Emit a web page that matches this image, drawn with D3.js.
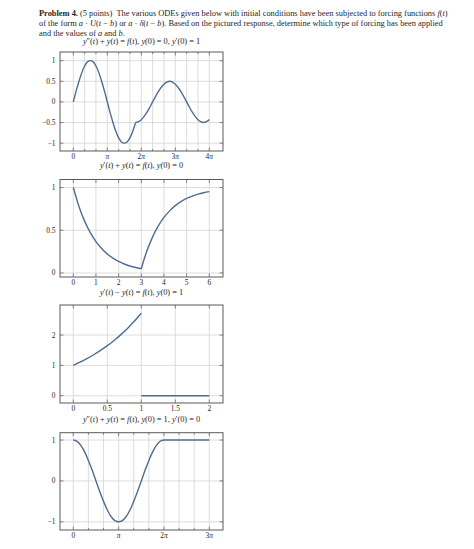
<!DOCTYPE html>
<html>
<head>
<meta charset="utf-8">
<script src="https://cdn.jsdelivr.net/npm/d3@7"></script>
<style>
  html, body { margin: 0; padding: 0; background: #fff; }
  svg { display: block; }
  text { font-family: "Liberation Serif", "DejaVu Serif", serif; fill: #262626; }
</style>
</head>
<body>
<svg id="sheet" width="474" height="549"></svg>
<script>
// ---- responses, x in units of π for the oscillator panels ----
const wave1Before = [[0,0],[0.083,0.26],[0.167,0.5],[0.25,0.71],[0.333,0.87],[0.417,0.97],[0.5,1],
  [0.583,0.97],[0.667,0.87],[0.75,0.71],[0.833,0.5],[0.917,0.26],[1,0],[1.083,-0.26],[1.167,-0.5],
  [1.25,-0.71],[1.333,-0.87],[1.417,-0.97],[1.5,-1],[1.583,-0.97],[1.667,-0.87],[1.75,-0.71],[1.833,-0.5]];
const wave1After = [[1.833,-0.5],[1.917,-0.48],[2,-0.43],[2.083,-0.35],[2.167,-0.25],[2.25,-0.13],
  [2.333,0],[2.417,0.13],[2.5,0.25],[2.583,0.35],[2.667,0.43],[2.75,0.48],[2.833,0.5],[2.917,0.48],
  [3,0.43],[3.083,0.35],[3.167,0.25],[3.25,0.13],[3.333,0],[3.417,-0.13],[3.5,-0.25],[3.583,-0.35],
  [3.667,-0.43],[3.75,-0.48],[3.833,-0.5],[3.917,-0.48],[4,-0.43]];

const decayBefore = [[0,1],[0.25,0.779],[0.5,0.607],[0.75,0.472],[1,0.368],[1.25,0.287],[1.5,0.223],
  [1.75,0.174],[2,0.135],[2.25,0.105],[2.5,0.082],[2.75,0.064],[3,0.05]];
const decayAfter = [[3,0.05],[3.1,0.14],[3.25,0.26],[3.5,0.423],[3.75,0.551],[4,0.65],[4.25,0.727],
  [4.5,0.788],[4.75,0.835],[5,0.872],[5.25,0.9],[5.5,0.922],[5.75,0.939],[6,0.952]];

const growthBefore = [[0,1],[0.1,1.105],[0.2,1.221],[0.3,1.35],[0.4,1.492],[0.5,1.649],[0.6,1.822],
  [0.7,2.014],[0.8,2.226],[0.9,2.46],[1,2.718]];
const growthAfter = [[1,0],[2,0]];

const wave4Before = [[0,1],[0.083,0.97],[0.167,0.87],[0.25,0.71],[0.333,0.5],[0.417,0.26],[0.5,0],
  [0.583,-0.26],[0.667,-0.5],[0.75,-0.71],[0.833,-0.87],[0.917,-0.97],[1,-1],[1.083,-0.97],
  [1.167,-0.87],[1.25,-0.71],[1.333,-0.5],[1.417,-0.26],[1.5,0],[1.583,0.26],[1.667,0.5],
  [1.75,0.71],[1.833,0.87],[1.917,0.97],[2,1]];
const wave4After = [[2,1],[3,1]];

// ---- tick values and labels ----
const xTicks1 = [0, 1, 2, 3, 4];
const xLabels1 = ["0", "π", "2π", "3π", "4π"];
const yTicks1 = [-1, -0.5, 0, 0.5, 1];
const yLabels1 = ["−1", "−0.5", "0", "0.5", "1"];

const xTicks2 = [0, 1, 2, 3, 4, 5, 6];
const xLabels2 = ["0", "1", "2", "3", "4", "5", "6"];
const yTicks2 = [0, 0.5, 1];
const yLabels2 = ["0", "0.5", "1"];

const xTicks3 = [0, 0.5, 1, 1.5, 2];
const xLabels3 = ["0", "0.5", "1", "1.5", "2"];
const yTicks3 = [0, 1, 2];
const yLabels3 = ["0", "1", "2"];

const xTicks4 = [0, 1, 2, 3];
const xLabels4 = ["0", "π", "2π", "3π"];
const yTicks4 = [-1, 0, 1];
const yLabels4 = ["−1", "0", "1"];

const titles = [
  "y″(t) + y(t) = f(t), y(0) = 0, y′(0) = 1",
  "y′(t) + y(t) = f(t), y(0) = 0",
  "y′(t) − y(t) = f(t), y(0) = 1",
  "y″(t) + y(t) = f(t), y(0) = 1, y′(0) = 0"
];

// ---- layout ----
const svg = d3.select("#sheet");
const frameL = 60, frameR = 223, plotX0 = 73.3, plotX1 = 209.3;
const lineColor = "#4f6e8f", frameColor = "#5a5a5a", gridColor = "#d4d4d4";

// writes a string, setting the single-letter math symbols in italics
function mathText(textSel, str) {
  const parts = str.match(/[A-Za-zπδ]+|[^A-Za-zπδ]+/g) || [];
  parts.forEach(s => {
    const t = textSel.append("tspan").text(s);
    if (/^[A-Za-zπδ]+$/.test(s)) t.attr("font-style", "italic");
  });
}

// problem statement (first two lines justified by widening word gaps)
const header = [
  { y: 15.5, fit: 398, runs: [["Problem 4.", "b"], [" (5 points)  The various ODEs given below with initial conditions have been subjected to forcing functions ", ""], ["f", "i"], ["(", ""], ["t", "i"], [")", ""]] },
  { y: 25.8, fit: 398, runs: [["of the form ", ""], ["a", "i"], [" · ", ""], ["U", "i"], ["(", ""], ["t", "i"], [" − ", ""], ["b", "i"], [") or ", ""], ["a", "i"], [" · ", ""], ["δ", "i"], ["(", ""], ["t", "i"], [" − ", ""], ["b", "i"], ["). Based on the pictured response, determine which type of forcing has been applied", ""]] },
  { y: 35.5, fit: null, runs: [["and the values of ", ""], ["a", "i"], [" and ", ""], ["b", "i"], [".", ""]] }
];
header.forEach(line => {
  const t = svg.append("text").attr("x", 39).attr("y", line.y).attr("font-size", 8.4)
    .attr("xml:space", "preserve").style("white-space", "pre");
  line.runs.forEach(([s, st]) => {
    const sp = t.append("tspan").text(s);
    if (st === "b") sp.attr("font-weight", "bold");
    if (st === "i") sp.attr("font-style", "italic");
  });
  if (line.fit) {
    const natural = t.node().getComputedTextLength();
    const gaps = line.runs.map(r => r[0]).join("").split(" ").length - 1;
    t.attr("word-spacing", Math.max(0, (line.fit - natural) / gaps));
  }
});

const panels = [
  { title: titles[0], titleY: 43.8, top: 52, bottom: 151, xMax: 4, yDom: [-1.19, 1.21],
    xGrid: d3.range(0, 4.001, 1 / 3), xTicks: xTicks1, xLabels: xLabels1, yTicks: yTicks1, yLabels: yLabels1,
    segs: [wave1Before, wave1After], curve: d3.curveCatmullRom },
  { title: titles[1], titleY: 168, top: 179.5, bottom: 277, xMax: 6, yDom: [-0.047, 1.094],
    xGrid: xTicks2, xTicks: xTicks2, xLabels: xLabels2, yTicks: yTicks2, yLabels: yLabels2,
    segs: [decayBefore, decayAfter], curve: d3.curveMonotoneX },
  { title: titles[2], titleY: 294.5, top: 305, bottom: 403, xMax: 2, yDom: [-0.24, 2.99],
    xGrid: xTicks3, xTicks: xTicks3, xLabels: xLabels3, yTicks: yTicks3, yLabels: yLabels3,
    segs: [growthBefore, growthAfter], curve: d3.curveMonotoneX },
  { title: titles[3], titleY: 421.5, top: 432.7, bottom: 530, xMax: 3, yDom: [-1.2, 1.18],
    xGrid: d3.range(0, 3.001, 1 / 3), xTicks: xTicks4, xLabels: xLabels4, yTicks: yTicks4, yLabels: yLabels4,
    segs: [wave4Before, wave4After], curve: d3.curveCatmullRom }
];

panels.forEach(p => {
  const x = d3.scaleLinear().domain([0, p.xMax]).range([plotX0, plotX1]);
  const y = d3.scaleLinear().domain(p.yDom).range([p.bottom, p.top]);
  const g = svg.append("g");

  // title
  mathText(g.append("text").attr("x", (frameL + frameR) / 2).attr("y", p.titleY)
    .attr("text-anchor", "middle").attr("font-size", 8.3), p.title);

  // grid
  g.selectAll(".gx").data(p.xGrid).join("line")
    .attr("x1", d => x(d)).attr("x2", d => x(d)).attr("y1", p.top).attr("y2", p.bottom)
    .attr("stroke", gridColor).attr("stroke-width", 0.8);
  g.selectAll(".gy").data(p.yTicks).join("line")
    .attr("x1", frameL).attr("x2", frameR).attr("y1", d => y(d)).attr("y2", d => y(d))
    .attr("stroke", gridColor).attr("stroke-width", 0.8);

  // response curve
  const line = d3.line().x(d => x(d[0])).y(d => y(d[1])).curve(p.curve);
  p.segs.forEach(seg => g.append("path").attr("d", line(seg)).attr("fill", "none")
    .attr("stroke", lineColor).attr("stroke-width", 1.4).attr("stroke-linejoin", "round"));

  // frame and inward ticks
  g.append("rect").attr("x", frameL).attr("y", p.top).attr("width", frameR - frameL)
    .attr("height", p.bottom - p.top).attr("fill", "none").attr("stroke", frameColor).attr("stroke-width", 1);
  const tk = g.append("g").attr("stroke", frameColor).attr("stroke-width", 0.7);
  p.xGrid.forEach(v => {
    const L = p.xTicks.some(t => Math.abs(t - v) < 1e-6) ? 3.5 : 2;
    tk.append("line").attr("x1", x(v)).attr("x2", x(v)).attr("y1", p.bottom).attr("y2", p.bottom - L);
    tk.append("line").attr("x1", x(v)).attr("x2", x(v)).attr("y1", p.top).attr("y2", p.top + L);
  });
  p.yTicks.forEach(v => {
    tk.append("line").attr("x1", frameL).attr("x2", frameL + 3.5).attr("y1", y(v)).attr("y2", y(v));
    tk.append("line").attr("x1", frameR).attr("x2", frameR - 3.5).attr("y1", y(v)).attr("y2", y(v));
  });

  // tick labels
  p.xTicks.forEach((v, i) => {
    mathText(g.append("text").attr("x", x(v)).attr("y", p.bottom + 8.3)
      .attr("text-anchor", "middle").attr("font-size", 7.4), p.xLabels[i]);
  });
  p.yTicks.forEach((v, i) => {
    g.append("text").attr("x", 55.5).attr("y", y(v) + 2.5)
      .attr("text-anchor", "end").attr("font-size", 7.4).text(p.yLabels[i]);
  });
});
</script>
</body>
</html>
